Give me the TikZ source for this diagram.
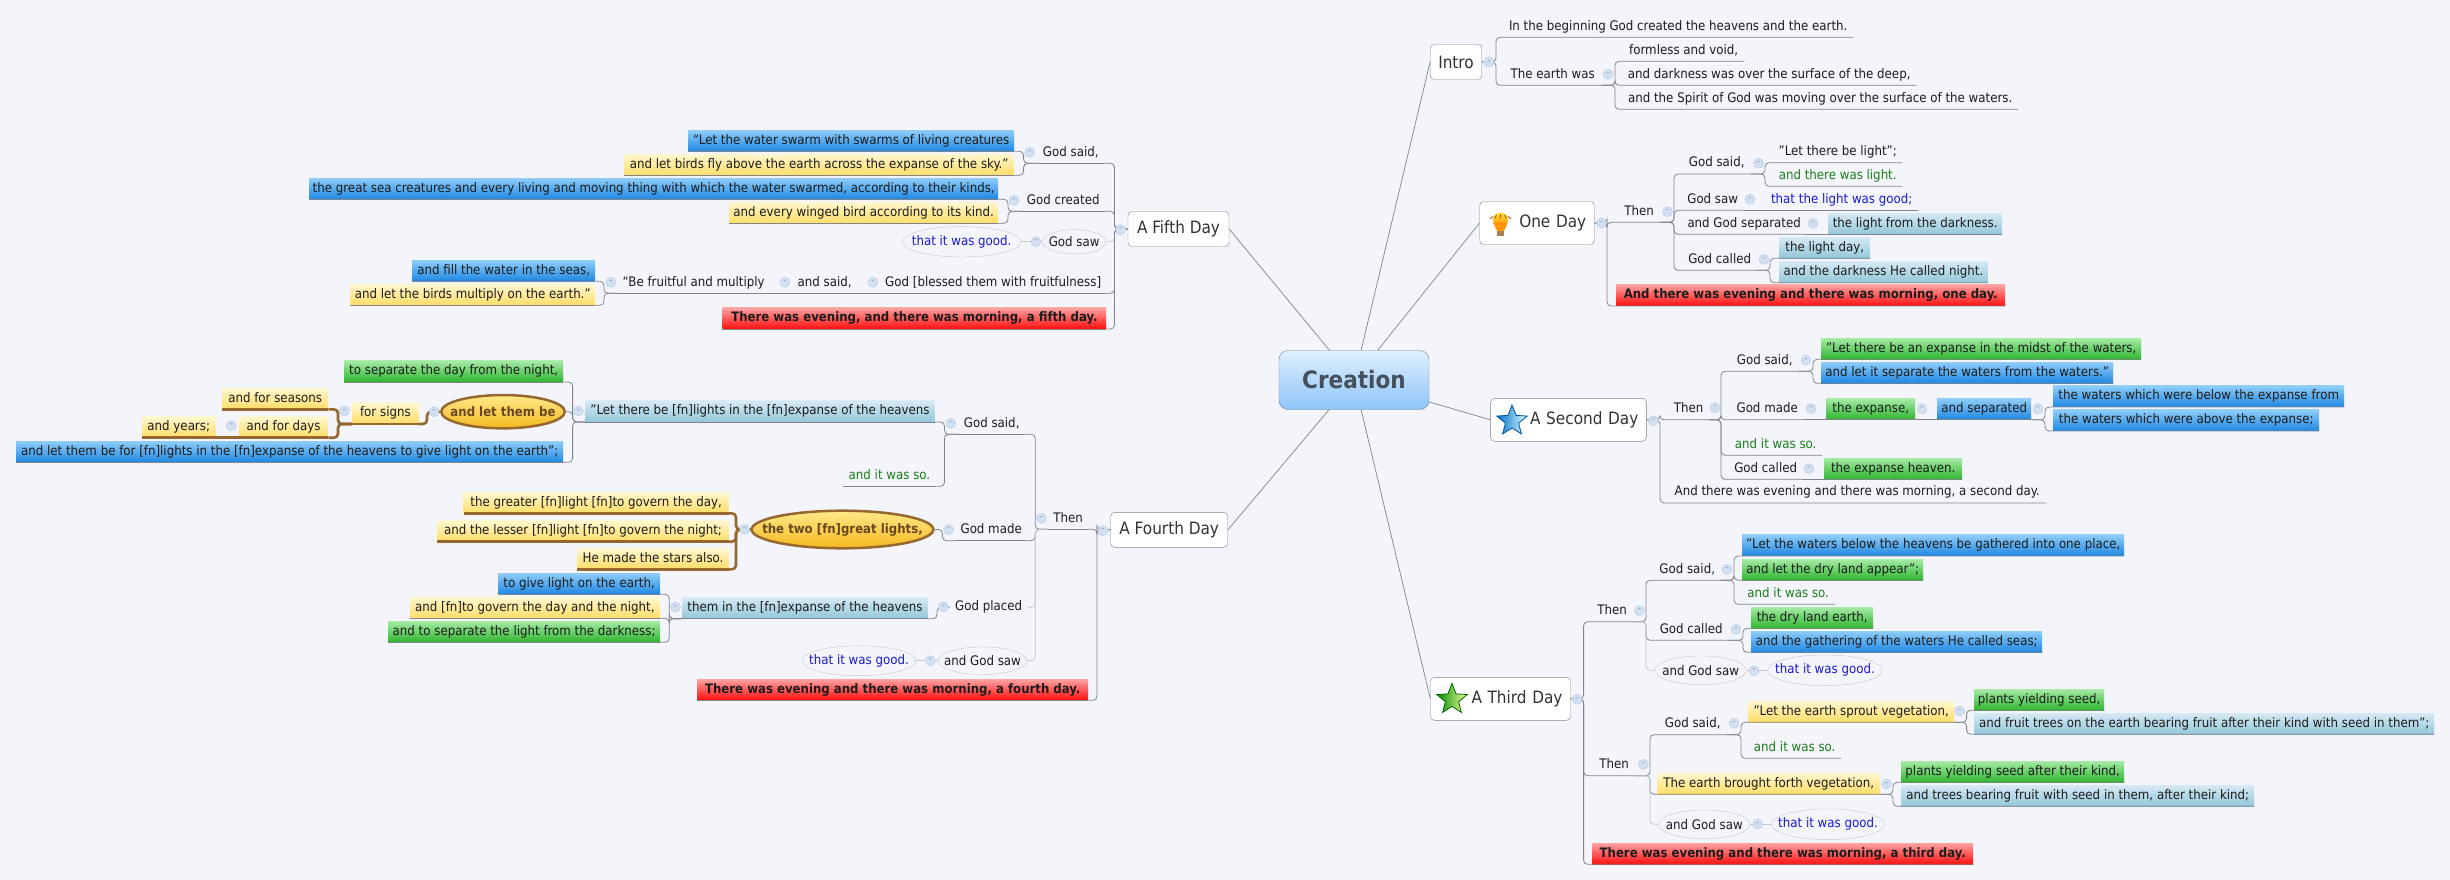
\documentclass[tikz,border=0pt]{standalone}
\usepackage{fontspec}
\setmainfont{DejaVu Sans Condensed}
\usetikzlibrary{shapes.geometric}

\definecolor{bgcol}{HTML}{F3F5FA}
\definecolor{linecol}{HTML}{80858C}
\definecolor{litecol}{HTML}{C4C7CC}
\definecolor{browncol}{HTML}{96672E}
\definecolor{saytext}{HTML}{1A7F1A}
\definecolor{goodtext}{HTML}{1A1AD2}
\definecolor{inktext}{HTML}{1C1C1C}
\definecolor{greentop}{HTML}{A6EBA6}
\definecolor{greenend}{HTML}{2FB52F}
\definecolor{bluetop}{HTML}{8FCDF9}
\definecolor{blueend}{HTML}{1F88E2}
\definecolor{tinttop}{HTML}{D6EAF3}
\definecolor{tintend}{HTML}{94C6DA}
\definecolor{yellowtop}{HTML}{FFF7D0}
\definecolor{yellowend}{HTML}{FFDD66}
\definecolor{redtop}{HTML}{FFA3A3}
\definecolor{redend}{HTML}{FF0F0F}
\definecolor{goldtop}{HTML}{FFE98A}
\definecolor{goldend}{HTML}{F5B81F}
\definecolor{hubtop}{HTML}{DFEFFF}
\definecolor{hubend}{HTML}{8EC4F8}
\definecolor{hubtext}{HTML}{44505C}
\definecolor{markfill}{HTML}{D3E0F2}
\definecolor{markline}{HTML}{B5C8E3}
\definecolor{marktext}{HTML}{6F8DBA}

\tikzset{
  tx/.style={anchor=south west,inner xsep=0pt,inner ysep=0pt,minimum height=21,
    text height=10,text depth=3,text=inktext,font=\fontsize{13.15}{15}\selectfont,minimum width=#1},
  plain/.style={tx=#1},
  sogreen/.style={tx=#1,text=saytext},
  sogood/.style={tx=#1,text=goodtext},
  fillgreen/.style={tx=#1,top color=greentop,bottom color=greenend},
  fillblue/.style={tx=#1,top color=bluetop,bottom color=blueend},
  filltint/.style={tx=#1,top color=tinttop,bottom color=tintend},
  fillyellow/.style={tx=#1,top color=yellowtop,bottom color=yellowend},
  fillred/.style={tx=#1,top color=redtop,bottom color=redend,font=\fontsize{13.05}{15}\selectfont\bfseries},
  oval/.style 2 args={ellipse,inner sep=0pt,minimum width=#1,minimum height=#2,draw=litecol,
    fill=bgcol,text=inktext,font=\fontsize{13.15}{15}\selectfont},
  goldoval/.style 2 args={ellipse,inner sep=0pt,minimum width=#1,minimum height=#2,
    draw=browncol,line width=2.5pt,top color=goldtop,bottom color=goldend,
    text=browncol!70!black,font=\fontsize{13.05}{15}\selectfont\bfseries},
  daybox/.style={draw=linecol,fill=white,rounded corners=4,inner xsep=8pt,text=black!80,
    minimum height=#1,font=\fontsize{17}{20}\selectfont,align=right},
  hub/.style={draw=linecol,rounded corners=9,minimum width=150,minimum height=59,
    top color=hubtop,bottom color=hubend,text=hubtext,font=\fontsize{24}{28}\selectfont\bfseries},
  link/.style={draw=linecol,line width=0.8pt,rounded corners=4},
  litelink/.style={draw=litecol,line width=0.8pt,rounded corners=4},
  spoke/.style={draw=linecol,line width=0.7pt},
  tlink/.style={draw=browncol,line width=2.6pt,rounded corners=4},
  minus/.style={circle,inner sep=0pt,minimum size=10,draw=markline,fill=markfill,
    text=marktext,font=\fontsize{8}{8}\selectfont},
  spike/.style={star,star points=5,star point ratio=2.3,inner sep=0pt,minimum size=32,line width=0.8pt}
}

% from a node's end along to a spine, then along to the next node
\newcommand{\spine}[4][link]{\draw[#1] (#2) -- (#2 -| #3,0) |- (#4);}
% an ellipse takes its size from the style only
\newcommand{\oc}[1]{\makebox[0pt]{#1}}

\begin{document}
\begin{tikzpicture}[x=1pt,y=-1pt]
  \path[fill=bgcol,use as bounding box] (0,0) rectangle (2450,880);

  % hub and days
  \node[hub] (creation) at (1354,380) {Creation};
  \node[daybox=35,minimum width=51] (intro) at (1456,62) {Intro};
  \node[daybox=43,text width=98.5] (one) at (1537,223) {One Day};
  \node[daybox=43,text width=139.8] (two) at (1568.5,419.8) {A Second Day};
  \node[daybox=43,text width=124] (three) at (1500.5,698.8) {A Third Day};
  \node[daybox=35,minimum width=101] (five) at (1178.5,229) {A Fifth Day};
  \node[daybox=35,minimum width=117] (four) at (1169.2,529.8) {A Fourth Day};

  \draw[spoke] (creation) -- (intro.west);
  \draw[spoke] (creation) -- (one.west);
  \draw[spoke] (creation) -- (two.west);
  \draw[spoke] (creation) -- (three.west);
  \draw[spoke] (creation) -- (five.east);
  \draw[spoke] (creation) -- (four.east);

  % intro
  \node[plain=350] (i1) at (1503,37.3) {In the beginning God created the heavens and the earth.};
  \node[plain=97] (i2) at (1504,85.3) {The earth was};
  \node[plain=121] (i21) at (1623,61.3) {formless and void,};
  \node[plain=294] (i22) at (1622,85.3) {and darkness was over the surface of the deep,};
  \node[plain=396] (i23) at (1622,109.3) {and the Spirit of God was moving over the surface of the waters.};

  % first day
  \node[plain=42] (o0) at (1618,222.3) {Then};
  \node[fillred=389] (oe) at (1616,306) {And there was evening and there was morning, one day.};
  \node[plain=67] (o1) at (1683,174) {God said,};
  \node[plain=129] (o11) at (1773,162.7) {"Let there be light";};
  \node[sogreen=129] (o12) at (1773,186.3) {and there was light.};
  \node[plain=63] (o2) at (1681,210.3) {God saw};
  \node[sogood=153] (o21) at (1765,210.3) {that the light was good;};
  \node[plain=124] (o3) at (1682,234.3) {and God separated};
  \node[filltint=174] (o31) at (1828,234.3) {the light from the darkness.};
  \node[plain=73] (o4) at (1683,270.3) {God called};
  \node[filltint=91] (o41) at (1779,258.3) {the light day,};
  \node[filltint=208.5] (o42) at (1779,282.7) {and the darkness He called night.};

  % second day
  \node[plain=41] (s0) at (1668,419.8) {Then};
  \node[plain=378] (se) at (1668,503) {And there was evening and there was morning, a second day.};
  \node[plain=67] (s1) at (1731,371.3) {God said,};
  \node[fillgreen=320] (s11) at (1821,359.3) {"Let there be an expanse in the midst of the waters,};
  \node[fillblue=292] (s12) at (1821,383.3) {and let it separate the waters from the waters."};
  \node[plain=72] (s2) at (1731,419.8) {God made};
  \node[fillgreen=89] (s21) at (1826,419.8) {the expanse,};
  \node[fillblue=94] (s22) at (1937,419.8) {and separated};
  \node[fillblue=291] (s221) at (2053,407) {the waters which were below the expanse from};
  \node[fillblue=266] (s222) at (2053,431) {the waters which were above the expanse;};
  \node[sogreen=93] (s3) at (1729,455.3) {and it was so.};
  \node[plain=73] (s4) at (1729,479.3) {God called};
  \node[fillgreen=138] (s41) at (1824,479.3) {the expanse heaven.};

  % third day
  \node[plain=42] (d1) at (1591,621.7) {Then};
  \node[plain=42] (d2) at (1593,775.7) {Then};
  \node[fillred=381] (de) at (1592,864.3) {There was evening and there was morning, a third day.};
  \node[plain=66] (d11) at (1654,580.3) {God said,};
  \node[fillblue=382] (d111) at (1742,556) {"Let the waters below the heavens be gathered into one place,};
  \node[fillgreen=181] (d112) at (1742,580.3) {and let the dry land appear";};
  \node[sogreen=94] (d113) at (1741,604.3) {and it was so.};
  \node[plain=74] (d12) at (1654,640.3) {God called};
  \node[fillgreen=122] (d121) at (1751,628.3) {the dry land earth,};
  \node[fillblue=291] (d122) at (1751,652.3) {and the gathering of the waters He called seas;};
  \node[oval={91.5}{28.7}] (d13) at (1700.7,670.3) {\oc{and God saw}};
  \node[oval={114.5}{30.7},text=goodtext] (d131) at (1825,670.3) {\oc{that it was good.}};
  \node[plain=67] (d21) at (1659,734.7) {God said,};
  \node[fillyellow=205] (d211) at (1748.5,722.3) {"Let the earth sprout vegetation,};
  \node[fillgreen=130] (d2111) at (1974,710.3) {plants yielding seed,};
  \node[filltint=460] (d2112) at (1974,734.3) {and fruit trees on the earth bearing fruit after their kind with seed in them";};
  \node[sogreen=93] (d212) at (1748,758.3) {and it was so.};
  \node[fillyellow=223] (d22) at (1657,794.3) {The earth brought forth vegetation,};
  \node[fillgreen=223] (d221) at (1901,782.3) {plants yielding seed after their kind,};
  \node[filltint=353] (d222) at (1901,806.3) {and trees bearing fruit with seed in them, after their kind;};
  \node[oval={91.5}{28.7}] (d23) at (1704.3,824.3) {\oc{and God saw}};
  \node[oval={113}{30.7},text=goodtext] (d231) at (1828,824.3) {\oc{that it was good.}};

  % fifth day
  \node[plain=66] (f1) at (1037.6,163.3) {God said,};
  \node[fillblue=326] (f11) at (688,151.3) {“Let the water swarm with swarms of living creatures};
  \node[fillyellow=390] (f12) at (624,175.3) {and let birds fly above the earth across the expanse of the sky.”};
  \node[plain=84] (f2) at (1021,211.3) {God created};
  \node[fillblue=689] (f21) at (309,199.3) {the great sea creatures and every living and moving thing with which the water swarmed, according to their kinds,};
  \node[fillyellow=269] (f22) at (729,223.3) {and every winged bird according to its kind.};
  \node[oval={63.6}{24.3}] (f3) at (1074.2,241.8) {\oc{God saw}};
  \node[oval={118.6}{30.4},text=goodtext] (f31) at (961.7,241.8) {\oc{that it was good.}};
  \node[plain=226] (f4) at (880,293.3) {God [blessed them with fruitfulness]};
  \node[plain=65] (f41) at (792,293.3) {and said,};
  \node[plain=153] (f42) at (617,293.3) {“Be fruitful and multiply};
  \node[fillblue=183] (f421) at (412,281.3) {and fill the water in the seas,};
  \node[fillyellow=245] (f422) at (350,305.3) {and let the birds multiply on the earth.”};
  \node[fillred=383.6] (fe) at (722.4,329) {There was evening, and there was morning, a fifth day.};

  % fourth day
  \node[plain=42] (g0) at (1047,529.3) {Then};
  \node[fillred=391] (ge) at (697,700.3) {There was evening and there was morning, a fourth day.};
  \node[plain=67] (g1) at (958,434.3) {God said,};
  \node[filltint=349.6] (g11) at (585,422) {"Let there be [fn]lights in the [fn]expanse of the heavens};
  \node[sogreen=93.5] (g12) at (842.5,486.3) {and it was so.};
  \node[fillgreen=219] (g111) at (344,382) {to separate the day from the night,};
  \node[goldoval={123.6}{33.3}] (g112) at (503,411.7) {\oc{and let them be}};
  \node[fillblue=547] (g113) at (16,462.3) {and let them be for [fn]lights in the [fn]expanse of the heavens to give light on the earth";};
  \node[fillyellow=66.4] (g1121) at (352,424) {for signs};
  \node[fillyellow=106] (g1122) at (222,409.3) {and for seasons};
  \node[fillyellow=89] (g1123) at (239,437.7) {and for days};
  \node[fillyellow=73.9] (g1124) at (141.6,437.7) {and years;};
  \node[plain=72] (g2) at (955,540.7) {God made};
  \node[goldoval={181.7}{37.6}] (g21) at (842.5,529.5) {\oc{the two [fn]great lights,}};
  \node[fillyellow=264.9] (g211) at (463.5,513.3) {the greater [fn]light [fn]to govern the day,};
  \node[fillyellow=291.1] (g212) at (437.3,541.7) {and the lesser [fn]light [fn]to govern the night;};
  \node[fillyellow=151.1] (g213) at (577.3,569.3) {He made the stars also.};
  \node[plain=77] (g3) at (950,618) {God placed};
  \node[filltint=245.5] (g31) at (682,618.7) {them in the [fn]expanse of the heavens};
  \node[fillblue=161.8] (g311) at (498,594.3) {to give light on the earth,};
  \node[fillyellow=250.2] (g312) at (409.6,618.3) {and [fn]to govern the day and the night,};
  \node[fillgreen=271.8] (g313) at (388,642.3) {and to separate the light from the darkness;};
  \node[oval={89}{27.6}] (g4) at (982.5,660.7) {\oc{and God saw}};
  \node[oval={114}{30},text=goodtext] (g41) at (859,660.7) {\oc{that it was good.}};

  % intro links
  \spine{intro.east}{1496}{i1.south east}
  \spine{intro.east}{1496}{i2.south east}
  \spine{i2.south east}{1615}{i21.south east}
  \spine{i2.south east}{1615}{i22.south east}
  \spine{i2.south east}{1615}{i23.south east}
  % first day links
  \spine{one.east}{1607}{o0.south east}
  \spine{one.east}{1607}{oe.south east}
  \spine{o0.south east}{1674}{o1.south east}
  \spine{o0.south east}{1674}{o2.south east}
  \spine{o0.south east}{1674}{o3.south east}
  \spine{o0.south east}{1674}{o4.south east}
  \spine{o1.south east}{1765}{o11.south east}
  \spine{o1.south east}{1765}{o12.south east}
  \draw[link] (o2.south east) -- (o21.south east);
  \draw[link] (o3.south east) -- (o31.south east);
  \spine{o4.south east}{1770}{o41.south east}
  \spine{o4.south east}{1770}{o42.south east}
  % second day links
  \spine{two.east}{1660}{s0.south east}
  \spine{two.east}{1660}{se.south east}
  \spine{s0.south east}{1721}{s1.south east}
  \spine{s0.south east}{1721}{s2.south east}
  \spine{s0.south east}{1721}{s3.south east}
  \spine{s0.south east}{1721}{s4.south east}
  \spine{s1.south east}{1813}{s11.south east}
  \spine{s1.south east}{1813}{s12.south east}
  \draw[link] (s2.south east) -- (s21.south east);
  \draw[link] (s21.south east) -- (s22.south east);
  \spine{s22.south east}{2045}{s221.south east}
  \spine{s22.south east}{2045}{s222.south east}
  \draw[link] (s4.south east) -- (s41.south east);
  % third day links
  \spine{three.east}{1583.6}{d1.south east}
  \spine{three.east}{1583.6}{d2.south east}
  \spine{three.east}{1583.6}{de.south east}
  \spine{d1.south east}{1646}{d11.south east}
  \spine{d1.south east}{1646}{d12.south east}
  \spine[litelink]{d1.south east}{1646}{d13.west}
  \spine{d11.south east}{1734}{d111.south east}
  \spine{d11.south east}{1734}{d112.south east}
  \spine{d11.south east}{1734}{d113.south east}
  \spine{d12.south east}{1743}{d121.south east}
  \spine{d12.south east}{1743}{d122.south east}
  \draw[litelink] (d13) -- (d131);
  \spine{d2.south east}{1650}{d21.south east}
  \spine{d2.south east}{1650}{d22.south east}
  \spine[litelink]{d2.south east}{1650}{d23.west}
  \spine{d21.south east}{1741}{d211.south east}
  \spine{d21.south east}{1741}{d212.south east}
  \spine{d211.south east}{1966.6}{d2111.south east}
  \spine{d211.south east}{1966.6}{d2112.south east}
  \spine{d22.south east}{1893}{d221.south east}
  \spine{d22.south east}{1893}{d222.south east}
  \draw[litelink] (d23) -- (d231);
  % fifth day links
  \spine{five.west}{1114.5}{f1.south east}
  \spine{five.west}{1114.5}{f2.south east}
  \spine[litelink]{five.west}{1114.5}{f3.east}
  \spine{five.west}{1114.5}{f4.south east}
  \spine{five.west}{1114.5}{fe.south east}
  \spine{f1.south west}{1023.6}{f11.south east}
  \spine{f1.south west}{1023.6}{f12.south east}
  \spine{f2.south west}{1008}{f21.south east}
  \spine{f2.south west}{1008}{f22.south east}
  \draw[litelink] (f3) -- (f31);
  \draw[link] (f4.south east) -- (f4.south west) -- (f41.south east);
  \draw[link] (f41.south east) -- (f41.south west) -- (f42.south east);
  \draw[link] (f42.south east) -- (f42.south west);
  \spine{f42.south west}{604}{f421.south east}
  \spine{f42.south west}{604}{f422.south east}
  \draw[link] (f1.south east) -- (f1.south west);
  \draw[link] (f2.south east) -- (f2.south west);
  % fourth day links
  \spine{four.west}{1097}{g0.south east}
  \spine{four.west}{1097}{ge.south east}
  \draw[link] (g0.south east) -- (g0.south west);
  \spine{g0.south west}{1035.3}{g1.south east}
  \spine{g0.south west}{1035.3}{g2.south east}
  \spine[litelink]{g0.south west}{1035.3}{g3.east}
  \spine[litelink]{g0.south west}{1035.3}{g4.east}
  \draw[link] (g1.south east) -- (g1.south west);
  \spine{g1.south west}{944.5}{g11.south east}
  \spine{g1.south west}{944.5}{g12.south east}
  \draw[link] (g11.south east) -- (g11.south west);
  \spine{g11.south west}{572.6}{g111.south east}
  \spine{g11.south west}{572.6}{g112.east}
  \spine{g11.south west}{572.6}{g113.south east}
  \spine[tlink]{g112.west}{427}{g1121.south east}
  \draw[tlink] (g1121.south east) -- (g1121.south west);
  \spine[tlink]{g1121.south west}{338}{g1122.south east}
  \spine[tlink]{g1121.south west}{338}{g1123.south east}
  \draw[tlink] (g1122.south east) -- (g1122.south west);
  \draw[tlink] (g1123.south east) -- (g1123.south west) -- (g1124.south east) -- (g1124.south west);
  \draw[link] (g2.south east) -- (g2.south west);
  \spine{g2.south west}{942.5}{g21.east}
  \spine[tlink]{g21.west}{736}{g211.south east}
  \spine[tlink]{g21.west}{736}{g212.south east}
  \spine[tlink]{g21.west}{736}{g213.south east}
  \draw[tlink] (g211.south east) -- (g211.south west);
  \draw[tlink] (g212.south east) -- (g212.south west);
  \draw[tlink] (g213.south east) -- (g213.south west);
  \spine{g3.west}{937}{g31.south east}
  \draw[link] (g31.south east) -- (g31.south west);
  \spine{g31.south west}{669.2}{g311.south east}
  \spine{g31.south west}{669.2}{g312.south east}
  \spine{g31.south west}{669.2}{g313.south east}
  \draw[litelink] (g4) -- (g41);
  % underlines of the leaves on the left
  \foreach \n in {f11,f12,f21,f22,f421,f422,fe,g12,g111,g113,ge,g311,g312,g313}
    \draw[link] (\n.south east) -- (\n.south west);

  % icons
  \node[spike,draw=blue!45!cyan!60!black,left color=cyan!55!blue!80!black,right color=cyan!15!white] (starblue) at (1512,421) {};
  \node[spike,draw=green!40!black,left color=green!55!black,right color=green!15!yellow!40!white] (stargreen) at (1452,699.5) {};
  \node[circle,inner sep=0pt,minimum size=15,top color=yellow!65!orange!80,bottom color=orange!85!yellow] (bulb) at (1500.5,220) {};
  \fill[orange!85!yellow] (bulb.200) -- (bulb.340) -- (1504,231) -- (1497,231) -- cycle;
  \fill[brown!70!gray] (1497,231) rectangle (1504,235.5);
  \foreach \a in {40,65,90,115,140}
    \draw[orange!70!black,line width=0.8pt] (bulb.\a) ++(\a:2) -- ++(\a:4);

  % collapse marks
  \foreach \x/\y [count=\i] in {1489/62,1608/74.3,1601.5/223,1667.5/211.7,1758.6/163.3,1750/199.3,1813/223.3,1764/259.3,
    1653.4/420.7,1715/407.7,1806/360,1811/408.7,1922/408.7,2038/408.7,1809/468.7,
    1577/699.3,1639.5/610.7,1727/569.3,1736/629.3,1754/670.7,1643.4/764.3,1734/723.3,1959.4/711,1886.5/784,1757.7/824,
    1120.6/229.7,1029.7/152.3,1014/200.3,1035.8/241.7,873/282.3,785/282.3,611/282.3,
    1103/530.7,1041.5/518.3,950.7/423.3,578.5/411,434/411.7,344.4/411,231.3/425.7,948.7/529.7,744.7/529.3,943.3/607,675.5/607,930.4/660.7}
    \node[minus] (m\i) at (\x,\y) {–};
\end{tikzpicture}
\end{document}
